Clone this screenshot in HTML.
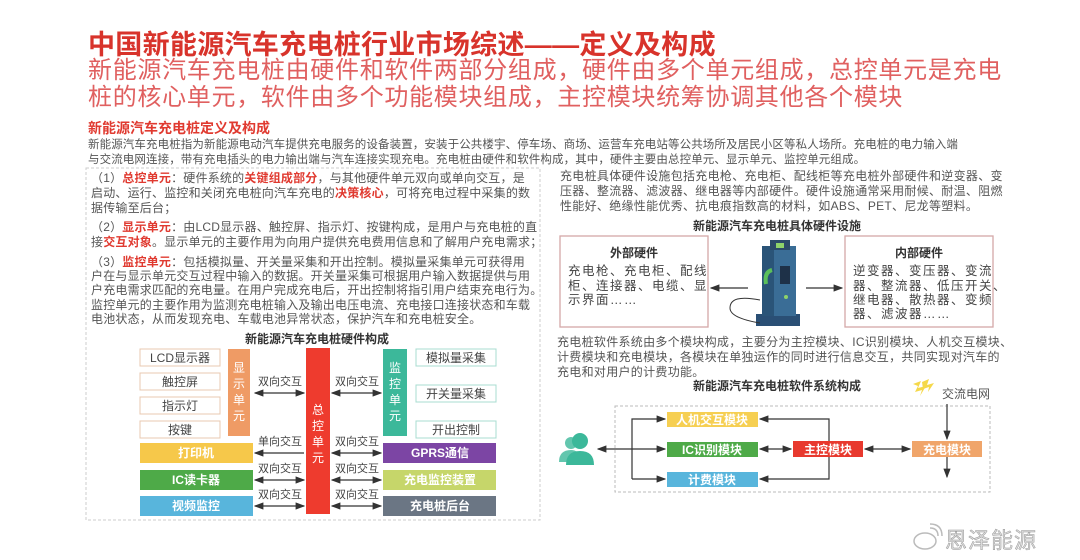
<!DOCTYPE html>
<html><head><meta charset="utf-8"><style>
body{margin:0;width:1080px;height:560px;background:#fff;position:relative;overflow:hidden;font-family:"Liberation Sans","Noto Sans CJK SC",sans-serif;}
.t{position:absolute;white-space:nowrap;}
.p{font-size:12px;color:#555;line-height:15px;letter-spacing:0.2px}
.r{color:#e03a30;font-weight:bold}
svg{position:absolute;left:0;top:0}
svg text{font-family:"Liberation Sans","Noto Sans CJK SC",sans-serif}
</style></head><body>
<svg width="1080" height="560">
<defs>
<marker id="a" markerWidth="8" markerHeight="8" refX="7" refY="4" orient="auto-start-reverse"><path d="M0,1 L8,4 L0,7z" fill="#333"/></marker>
</defs>
<rect x="86" y="168" width="454" height="352" fill="none" stroke="#ccc" stroke-dasharray="3,2"/>
<text x="317" y="343" font-size="12" font-weight="bold" text-anchor="middle" fill="#333">新能源汽车充电桩硬件构成</text>
<g font-size="12" fill="#444" text-anchor="middle">
<rect x="140" y="349" width="80" height="17" fill="#fff" stroke="#e8c8b0"/><text x="180" y="362">LCD显示器</text>
<rect x="140" y="373" width="80" height="17" fill="#fff" stroke="#e8c8b0"/><text x="180" y="386">触控屏</text>
<rect x="140" y="397" width="80" height="17" fill="#fff" stroke="#e8c8b0"/><text x="180" y="410">指示灯</text>
<rect x="140" y="421" width="80" height="17" fill="#fff" stroke="#e8c8b0"/><text x="180" y="434">按键</text>
<rect x="416" y="349" width="80" height="17" fill="#fff" stroke="#a8dcd0"/><text x="456" y="362">模拟量采集</text>
<rect x="416" y="385" width="80" height="17" fill="#fff" stroke="#a8dcd0"/><text x="456" y="398">开关量采集</text>
<rect x="416" y="421" width="80" height="17" fill="#fff" stroke="#a8dcd0"/><text x="456" y="434">开出控制</text>
</g>
<rect x="228" y="349" width="22" height="87" fill="#ef9b65"/>
<rect x="383" y="349" width="24" height="87" fill="#3cb89a"/>
<rect x="306" y="348" width="24" height="166" fill="#ee3b2e"/>
<g font-size="12" fill="#fff" text-anchor="middle">
<text x="239" y="372">显</text><text x="239" y="388">示</text><text x="239" y="404">单</text><text x="239" y="420">元</text>
<text x="395" y="372">监</text><text x="395" y="388">控</text><text x="395" y="404">单</text><text x="395" y="420">元</text>
<text x="318" y="414">总</text><text x="318" y="430">控</text><text x="318" y="446">单</text><text x="318" y="462">元</text>
</g>
<rect x="140" y="443" width="113" height="20" fill="#f6c84a"/>
<rect x="140" y="470" width="113" height="20" fill="#4eaa48"/>
<rect x="140" y="496" width="113" height="20" fill="#58b5dc"/>
<rect x="383" y="443" width="113" height="20" fill="#7c45a4"/>
<rect x="383" y="470" width="113" height="20" fill="#c6d66a"/>
<rect x="383" y="496" width="113" height="20" fill="#6b7684"/>
<g font-size="12" fill="#fff" text-anchor="middle" font-weight="bold">
<text x="196" y="457">打印机</text><text x="196" y="484">IC读卡器</text><text x="196" y="510">视频监控</text>
<text x="440" y="457">GPRS通信</text><text x="440" y="484">充电监控装置</text><text x="440" y="510">充电桩后台</text>
</g>
<g stroke="#333" stroke-width="1.2">
<line x1="255" y1="393" x2="304" y2="393" marker-start="url(#a)" marker-end="url(#a)"/>
<line x1="332" y1="393" x2="381" y2="393" marker-start="url(#a)" marker-end="url(#a)"/>
<line x1="255" y1="453" x2="304" y2="453" marker-start="url(#a)"/>
<line x1="332" y1="453" x2="381" y2="453" marker-start="url(#a)" marker-end="url(#a)"/>
<line x1="255" y1="480" x2="304" y2="480" marker-start="url(#a)" marker-end="url(#a)"/>
<line x1="332" y1="480" x2="381" y2="480" marker-start="url(#a)" marker-end="url(#a)"/>
<line x1="255" y1="506" x2="304" y2="506" marker-start="url(#a)" marker-end="url(#a)"/>
<line x1="332" y1="506" x2="381" y2="506" marker-start="url(#a)" marker-end="url(#a)"/>
</g>
<g font-size="11" fill="#444" text-anchor="middle">
<text x="280" y="385">双向交互</text><text x="357" y="385">双向交互</text>
<text x="280" y="445">单向交互</text><text x="357" y="445">双向交互</text>
<text x="280" y="472">双向交互</text><text x="357" y="472">双向交互</text>
<text x="280" y="498">双向交互</text><text x="357" y="498">双向交互</text>
</g>
<text x="777" y="230" font-size="12" font-weight="bold" text-anchor="middle" fill="#333">新能源汽车充电桩具体硬件设施</text>
<rect x="560" y="236" width="148" height="91" fill="#fff" stroke="#d4a8a8" stroke-width="1.3"/>
<rect x="845" y="236" width="148" height="91" fill="#fff" stroke="#d4a8a8" stroke-width="1.3"/>
<text x="634" y="257" font-size="12" font-weight="bold" text-anchor="middle" fill="#333">外部硬件</text>
<text x="919" y="257" font-size="12" font-weight="bold" text-anchor="middle" fill="#333">内部硬件</text>
<g font-size="12.5" fill="#444" letter-spacing="1.5">
<text x="568" y="275">充电枪、充电柜、配线</text><text x="568" y="290">柜、连接器、电缆、显</text><text x="568" y="304">示界面……</text>
<text x="853" y="275">逆变器、变压器、变流</text><text x="853" y="290">器、整流器、低压开关、</text><text x="853" y="304">继电器、散热器、变频</text><text x="853" y="318">器、滤波器……</text>
</g>
<g stroke="#333" stroke-width="1.2">
<line x1="748" y1="288" x2="711" y2="288" marker-end="url(#a)"/>
<line x1="806" y1="288" x2="842" y2="288" marker-end="url(#a)"/>
</g>
<path d="M756,314 L800,314 L800,326 L756,326z" fill="#2a4f75"/>
<rect x="762" y="246" width="34" height="70" fill="#3a6d96"/>
<rect x="762" y="246" width="12" height="70" fill="#2a5478"/>
<rect x="770" y="240" width="20" height="10" fill="#2b4a68"/>
<rect x="776" y="243" width="8" height="5" fill="#8ed36a"/>
<rect x="780" y="266" width="10" height="18" fill="#1e3148"/>
<path d="M772,270 q-8,2 -6,14" stroke="#5bc05a" stroke-width="4" fill="none"/>
<circle cx="786" cy="297" r="2" fill="#8ed36a"/>
<path d="M760,300 q-30,-6 -30,8 q0,10 30,15" stroke="#333" stroke-width="1" fill="none"/>
<text x="777" y="390" font-size="12" font-weight="bold" text-anchor="middle" fill="#333">新能源汽车充电桩软件系统构成</text>
<path d="M913,384 l8,-3 -3,7 8,-2 -6,10 2,-6 -7,2 3,-6z" fill="#f5d84a"/>
<path d="M922,382 l7,-3 -2,6 7,-2 -6,9 1,-5 -6,2z" fill="#f5d84a"/>
<text x="942" y="398" font-size="12" fill="#555">交流电网</text>
<rect x="615" y="406" width="375" height="86" fill="none" stroke="#bbb" stroke-dasharray="3,2"/>
<rect x="667" y="412" width="91" height="15" fill="#f6cf52"/>
<rect x="667" y="442" width="91" height="15" fill="#4eaa48"/>
<rect x="667" y="472" width="91" height="15" fill="#58b5dc"/>
<rect x="793" y="441" width="70" height="16" fill="#e8392e"/>
<rect x="912" y="441" width="70" height="16" fill="#f0a56a"/>
<g font-size="12" fill="#fff" text-anchor="middle" font-weight="bold">
<text x="712" y="424">人机交互模块</text><text x="712" y="454">IC识别模块</text><text x="712" y="484">计费模块</text>
<text x="828" y="454">主控模块</text><text x="947" y="454">充电模块</text>
</g>
<g stroke="#333" stroke-width="1.2" fill="none">
<line x1="598" y1="449" x2="665" y2="449" marker-start="url(#a)" marker-end="url(#a)"/>
<polyline points="632,479 632,419 665,419" marker-end="url(#a)"/>
<line x1="632" y1="479" x2="665" y2="479" marker-end="url(#a)"/>
<polyline points="829,441 829,419 760,419" marker-end="url(#a)"/>
<polyline points="829,457 829,479 760,479" marker-end="url(#a)"/>
<line x1="760" y1="449" x2="791" y2="449" marker-start="url(#a)" marker-end="url(#a)"/>
<line x1="865" y1="449" x2="910" y2="449" marker-start="url(#a)" marker-end="url(#a)"/>
<line x1="947" y1="404" x2="947" y2="439" marker-end="url(#a)"/>
<line x1="947" y1="457" x2="947" y2="477" marker-end="url(#a)"/>
</g>
<circle cx="580" cy="441" r="8" fill="#3cb89a"/>
<path d="M566,465 q0,-14 14,-14 q14,0 14,14z" fill="#3cb89a"/>
<circle cx="571" cy="443" r="6" fill="#3cb89a" opacity=".8"/>
<path d="M559,462 q0,-12 12,-12 q4,0 6,2 l-6,10z" fill="#3cb89a" opacity=".8"/>
<ellipse cx="925" cy="541" rx="11" ry="8" fill="none" stroke="#bbb" stroke-width="1.5"/>
<path d="M930,528 q8,0 8,8 M930,524 q12,0 12,12" stroke="#bbb" fill="none" stroke-width="1.5"/>
<text x="945" y="548" font-size="22" fill="#ddd" stroke="#999" stroke-width="0.5" letter-spacing="1">恩泽能源</text>
</svg>

<div class="t" style="left:88px;top:23px;font-size:27px;font-weight:bold;color:#d8332b;letter-spacing:0.3px">中国新能源汽车充电桩行业市场综述——定义及构成</div>
<div class="t" style="left:88px;top:57px;font-size:24px;color:#e06060;letter-spacing:0.7px;line-height:27px">新能源汽车充电桩由硬件和软件两部分组成，硬件由多个单元组成，总控单元是充电<br>桩的核心单元，软件由多个功能模块组成，主控模块统筹协调其他各个模块</div>
<div class="t" style="left:88px;top:118px;font-size:14px;font-weight:bold;color:#e03a30">新能源汽车充电桩定义及构成</div>
<div class="t p" style="left:88px;top:138px;font-size:11.5px;letter-spacing:0.1px">新能源汽车充电桩指为新能源电动汽车提供充电服务的设备装置，安装于公共楼宇、停车场、商场、运营车充电站等公共场所及居民小区等私人场所。充电桩的电力输入端<br>与交流电网连接，带有充电插头的电力输出端与汽车连接实现充电。充电桩由硬件和软件构成，其中，硬件主要由总控单元、显示单元、监控单元组成。</div>
<div class="t p" style="left:91px;top:171px">（1）<span class="r">总控单元</span>：硬件系统的<span class="r">关键组成部分</span>，与其他硬件单元双向或单向交互，是<br>启动、运行、监控和关闭充电桩向汽车充电的<span class="r">决策核心</span>，可将充电过程中采集的数<br>据传输至后台；</div>
<div class="t p" style="left:91px;top:220px">（2）<span class="r">显示单元</span>：由LCD显示器、触控屏、指示灯、按键构成，是用户与充电桩的直<br>接<span class="r">交互对象</span>。显示单元的主要作用为向用户提供充电费用信息和了解用户充电需求；</div>
<div class="t p" style="left:91px;top:255px;line-height:14.2px">（3）<span class="r">监控单元</span>：包括模拟量、开关量采集和开出控制。模拟量采集单元可获得用<br>户在与显示单元交互过程中输入的数据。开关量采集可根据用户输入数据提供与用<br>户充电需求匹配的充电量。在用户完成充电后，开出控制将指引用户结束充电行为。<br>监控单元的主要作用为监测充电桩输入及输出电压电流、充电接口连接状态和车载<br>电池状态，从而发现充电、车载电池异常状态，保护汽车和充电桩安全。</div>
<div class="t p" style="left:560px;top:169px;letter-spacing:0.3px">充电桩具体硬件设施包括充电枪、充电柜、配线柜等充电桩外部硬件和逆变器、变<br>压器、整流器、滤波器、继电器等内部硬件。硬件设施通常采用耐候、耐温、阻燃<br>性能好、绝缘性能优秀、抗电痕指数高的材料，如ABS、PET、尼龙等塑料。</div>
<div class="t p" style="left:557px;top:335px;letter-spacing:0.3px">充电桩软件系统由多个模块构成，主要分为主控模块、IC识别模块、人机交互模块、<br>计费模块和充电模块，各模块在单独运作的同时进行信息交互，共同实现对汽车的<br>充电和对用户的计费功能。</div>
</body></html>
